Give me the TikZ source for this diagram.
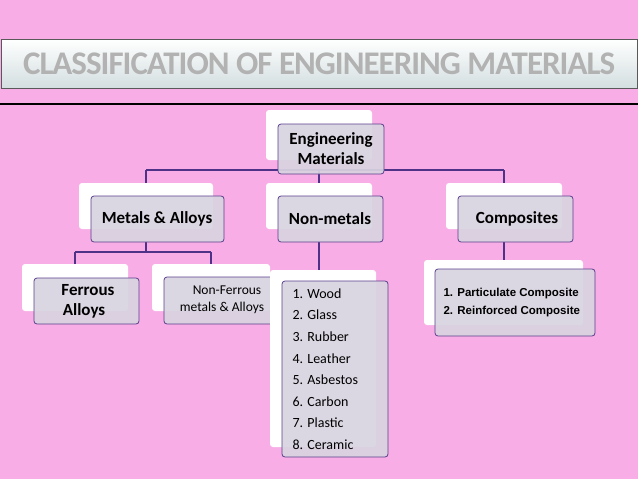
\documentclass[tikz,border=0pt]{standalone}
\usepackage{fontspec}
\setmainfont{Carlito}
\newfontfamily\arialf{Liberation Sans}
\begin{document}
\begin{tikzpicture}[x=1pt,y=-1pt,
  back/.style={fill=white,rounded corners=3pt},
  front/.style={fill=boxfill,draw=boxline,line width=0.8pt,rounded corners=3pt,fill opacity=0.92,text opacity=1},
  conn/.style={draw=linec,line width=1.3pt},
  lbl/.style={font=\fontsize{17}{20}\selectfont\bfseries,align=center,text=black}]
\definecolor{bg}{HTML}{F8ADE6}
\definecolor{boxfill}{HTML}{D8D4E0}
\definecolor{boxline}{HTML}{5B3F8C}
\definecolor{linec}{HTML}{4E3287}
\definecolor{titlec}{HTML}{E8F6F8}
\useasboundingbox (0,0) rectangle (638,479);
\fill[bg] (0,0) rectangle (638,479);
% title bar
\shade[top color=white,bottom color=titlec!80!gray,draw=gray!70!black,line width=0.8pt] (1,39) rectangle (637,88);
\node[font=\fontsize{33}{33}\selectfont\bfseries,text=gray!60] (title) at (319,64) {\addfontfeature{LetterSpace=-3}CLASSIFICATION OF ENGINEERING MATERIALS};
\draw[line width=1.8pt,black] (0,104) -- (638,104);
% connectors
\coordinate (h1) at (146,170); \coordinate (h2) at (504,170);
\draw[conn] (h1) -- (h2);
\draw[conn] (h1) -- (146,196);
\draw[conn] (319,170) -- (319,196);
\draw[conn] (h2) -- (504,196);
\draw[conn] (146,242) -- (146,252);
\draw[conn] (75,252) -- (211,252);
\draw[conn] (75,252) -- (75,278);
\draw[conn] (211,252) -- (211,277);
\draw[conn] (319,242) -- (319,316) -- (323,316) -- (323,330);
\draw[conn] (504,242) -- (504,316);
% boxes
\fill[back] (266,110) rectangle (372,160);
\draw[front] (278,124) rectangle (384,174);
\node[lbl] (em) at (331,149) {Engineering\\Materials};
\fill[back] (79,183) rectangle (213,229);
\draw[front] (91,196) rectangle (224,242);
\node[lbl] (ma) at (157,219) {Metals \& Alloys};
\fill[back] (266,183) rectangle (372,229);
\draw[front] (278,196) rectangle (383,242);
\node[lbl] (nm) at (330,219) {Non-metals};
\fill[back] (22,264) rectangle (128,311);
\draw[front] (34,278) rectangle (139,324);
\node[lbl] (fe) at (84,301) {\hspace*{8pt}Ferrous\\Alloys};
\fill[back] (446,183) rectangle (562,229);
\draw[front] (458,196) rectangle (573,242);
\node[lbl] (co) at (517,219) {Composites};
\fill[back] (152,264) rectangle (270,311);
\draw[front] (164,277) rectangle (281,324);
\node[lbl,font=\fontsize{13.5}{17}\selectfont] (nf) at (222,300) {\hspace*{10pt}Non-Ferrous\\metals \& Alloys};
\fill[back] (270,270) rectangle (376,447);
\draw[front] (282,281) rectangle (388,457);
\node[anchor=north west,align=left,font=\fontsize{14}{21.6}\selectfont,text=black] (list) at (289,285)
 {1. Wood\\2. Glass\\3. Rubber\\4. Leather\\5. Asbestos\\6. Carbon\\7. Plastic\\8. Ceramic};
\fill[back] (424,260) rectangle (583,325);
\draw[front] (435,269) rectangle (595,336);
\node[anchor=north west,align=left,font=\arialf\bfseries\fontsize{11.5}{18}\selectfont,text=black] (clist) at (440,285)
 {1. Particulate Composite\\2. Reinforced Composite};
\end{tikzpicture}
\end{document}
